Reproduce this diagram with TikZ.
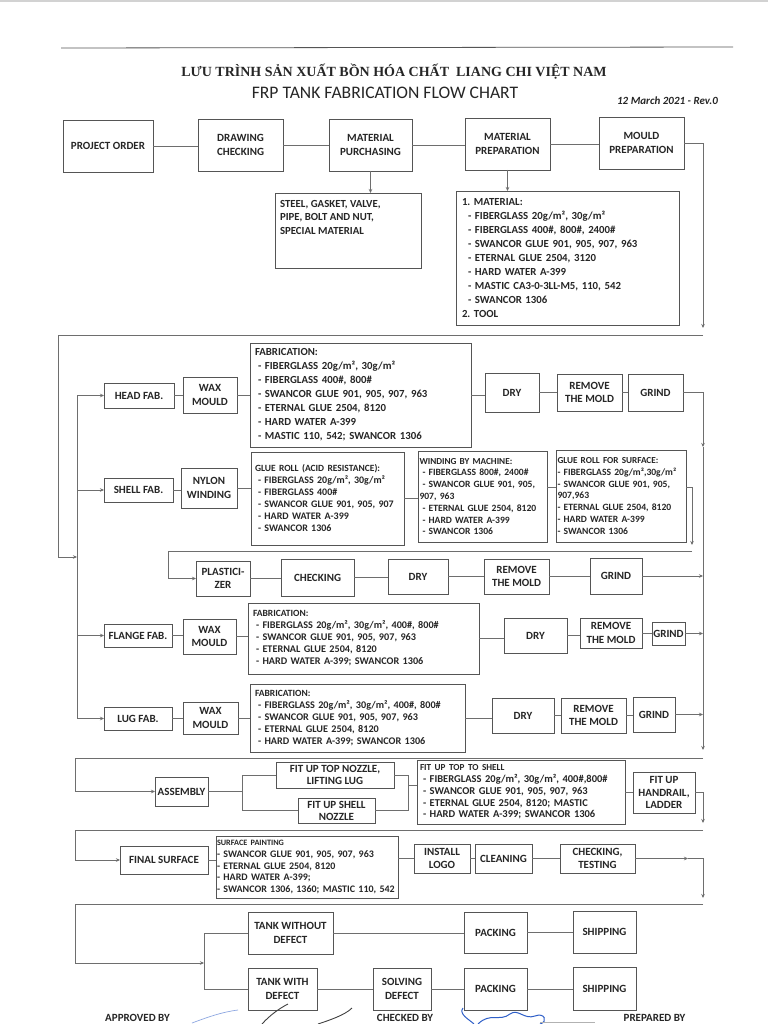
\documentclass[tikz,border=0pt]{standalone}
\usepackage{fontspec}
\setmainfont{Carlito}
\newfontfamily\titlefont{Liberation Serif}
\usetikzlibrary{arrows.meta}
\definecolor{ink}{HTML}{262626}
\definecolor{edgec}{HTML}{555555}
\definecolor{wirec}{HTML}{6E6E6E}
\definecolor{sigblue}{HTML}{2F5FC8}
\tikzset{
  box/.style={draw=edgec, line width=0.8pt, inner sep=0pt, outer sep=0pt, align=center, text=ink,
    font=\bfseries\fontsize{11}{13.3}\selectfont},
  lbox/.style={box, align=left, font=\bfseries\fontsize{10.2}{12}\selectfont},
  wire/.style={draw=wirec, line width=0.7pt},
  arr/.style={wire, -{Stealth[length=4pt,width=3.5pt]}},
  lbl/.style={text=ink, inner sep=0pt, font=\bfseries\fontsize{11}{13}\selectfont},
}
\newcommand\lnk[2]{\draw[wire] (#1.east) -- (#1.east -| #2.west);}
\newcommand\hdr{\fontsize{9.5}{12}\selectfont}
\newcommand\ind{\hspace*{3pt}}
\begin{document}
\begin{tikzpicture}[x=1pt,y=-1pt]
\useasboundingbox (0,0) rectangle (768,1024);
\fill[white] (0,0) rectangle (768,1024);
\draw[gray!35, line width=1.5pt] (0,1) -- (768,1);
\draw[edgec, line width=0.8pt] (61,48) -- (733,47);
% titles
\node[text=ink, inner sep=0pt, font=\titlefont\bfseries\fontsize{14}{16}\selectfont] (t1) at (394,72) {LƯU TRÌNH SẢN XUẤT BỒN HÓA CHẤT\ \ LIANG CHI VIỆT NAM};
\node[text=ink, inner sep=0pt, font=\fontsize{17.6}{19}\selectfont] (t2) at (385,93) {FRP TANK FABRICATION FLOW CHART};
\node[text=ink, inner sep=0pt, font=\bfseries\itshape\fontsize{11}{13}\selectfont] (date) at (667.5,101) {12 March 2021 - Rev.0};
% row 1
\node[box, minimum width=90pt, minimum height=52pt] (po) at (108,146) {PROJECT ORDER};
\node[box, minimum width=85pt, minimum height=52pt] (dc) at (240.5,145) {DRAWING\\CHECKING};
\node[box, minimum width=83pt, minimum height=52pt] (mp) at (370.5,145) {MATERIAL\\PURCHASING};
\node[box, minimum width=85pt, minimum height=52pt] (mprep) at (507.5,144) {MATERIAL\\PREPARATION};
\node[box, minimum width=85pt, minimum height=52pt] (mouldp) at (641.5,143) {MOULD\\PREPARATION};
\node[box, align=left, minimum width=146pt, minimum height=75pt, font=\bfseries\fontsize{10.8}{13.5}\selectfont] (steel) at (348,230.5)
  {\parbox[c][69pt][t]{136pt}{\vspace*{4pt}STEEL, GASKET, VALVE,\\PIPE, BOLT AND NUT,\\SPECIAL MATERIAL}};
\node[lbox, minimum width=223pt, minimum height=134pt, text width=211pt, font=\bfseries\fontsize{10.8}{13.9}\selectfont] (mat) at (567.5,258)
  {1.\ MATERIAL:\\
  \ind\ind - FIBERGLASS 20g/m², 30g/m²\\
  \ind\ind - FIBERGLASS 400\#, 800\#, 2400\#\\
  \ind\ind - SWANCOR GLUE 901, 905, 907, 963\\
  \ind\ind - ETERNAL GLUE 2504, 3120\\
  \ind\ind - HARD WATER A-399\\
  \ind\ind - MASTIC CA3-0-3LL-M5, 110, 542\\
  \ind\ind - SWANCOR 1306\\
  2.\ TOOL};
\lnk{po}{dc} \lnk{dc}{mp} \lnk{mp}{mprep} \lnk{mprep}{mouldp}
\draw[arr] (mp.south) -- (mp.south |- steel.north);
\draw[arr] (mprep.south) -- (mprep.south |- mat.north);
\coordinate (r1) at (703,328);
\draw[arr] (mouldp.east) -| (r1);
\coordinate (q1) at (703,335); \coordinate (q2) at (58,335);
\coordinate (q3) at (58,557); \coordinate (q4) at (77,557);
\draw[wire] (q1) -- (q2) -- (q3);
\draw[arr] (q3) -- (q4);
% head row
\node[box, minimum width=70pt, minimum height=25pt] (headfab) at (139,395.5) {HEAD FAB.};
\node[box, minimum width=54pt, minimum height=36pt] (waxh) at (210,395) {WAX\\MOULD};
\node[lbox, minimum width=221pt, minimum height=104pt, text width=211pt, font=\bfseries\fontsize{10.8}{14}\selectfont] (fabh) at (360.5,395)
  {FABRICATION:\\
  \ind - FIBERGLASS 20g/m², 30g/m²\\
  \ind - FIBERGLASS 400\#, 800\#\\
  \ind - SWANCOR GLUE 901, 905, 907, 963\\
  \ind - ETERNAL GLUE 2504, 8120\\
  \ind - HARD WATER A-399\\
  \ind - MASTIC 110, 542; SWANCOR 1306};
\node[box, minimum width=54pt, minimum height=39pt] (dryh) at (512,392.5) {DRY};
\node[box, minimum width=65pt, minimum height=37pt] (remh) at (589.5,392.5) {REMOVE\\THE MOLD};
\node[box, minimum width=55pt, minimum height=37pt] (grindh) at (655.5,392.5) {GRIND};
\lnk{headfab}{waxh} \lnk{waxh}{fabh} \lnk{fabh}{dryh} \lnk{dryh}{remh} \lnk{remh}{grindh}
% shell row
\node[box, minimum width=69pt, minimum height=24pt] (shellfab) at (138.5,490) {SHELL FAB.};
\node[box, minimum width=56pt, minimum height=40pt] (nylon) at (209,488) {NYLON\\WINDING};
\node[lbox, minimum width=153pt, minimum height=93pt, text width=145pt, font=\bfseries\fontsize{10}{12}\selectfont] (glueacid) at (327.5,498.5)
  {{\hdr GLUE ROLL (ACID RESISTANCE):}\\
  \ind - FIBERGLASS 20g/m², 30g/m²\\
  \ind - FIBERGLASS 400\#\\
  \ind - SWANCOR GLUE 901, 905, 907\\
  \ind - HARD WATER A-399\\
  \ind - SWANCOR 1306\\[6pt]};
\node[lbox, minimum width=129pt, minimum height=91pt, text width=126pt, font=\bfseries\fontsize{9.6}{11.8}\selectfont] (winding) at (482.5,496.5)
  {{\fontsize{9.2}{11.8}\selectfont WINDING BY MACHINE:}\\
  \ind - FIBERGLASS 800\#, 2400\#\\
  \ind - SWANCOR GLUE 901, 905,\\
  907, 963\\
  \ind - ETERNAL GLUE 2504, 8120\\
  \ind - HARD WATER A-399\\
  \ind - SWANCOR 1306};
\node[lbox, minimum width=130pt, minimum height=92pt, text width=127pt, font=\bfseries\fontsize{9.6}{11.8}\selectfont] (surf) at (621,496)
  {{\fontsize{9.2}{11.8}\selectfont GLUE ROLL FOR SURFACE:}\\
  - FIBERGLASS 20g/m²,30g/m²\\
  - SWANCOR GLUE 901, 905,\\
  907,963\\
  - ETERNAL GLUE 2504, 8120\\
  - HARD WATER A-399\\
  - SWANCOR 1306};
\lnk{shellfab}{nylon} \lnk{nylon}{glueacid} \lnk{glueacid}{winding}
\coordinate (w0) at (547,487);
\draw[wire] (w0) -- (w0 -| surf.west);
\coordinate (s0) at (686,487); \coordinate (s1) at (692,545);
\draw[arr] (s0) -| (s1);
% bus
\coordinate (b1) at (77,395.5); \coordinate (b2) at (77,718.5);
\draw[wire] (b1) -- (b2);
\draw[arr] (headfab.west -| b1) -- (headfab.west);
\draw[arr] (shellfab.west -| b1) -- (shellfab.west);
% right collector
\coordinate (r2) at (703,447); \coordinate (r3) at (703,750);
\draw[arr] (grindh.east) -| (r2);
\draw[arr] (r2) -- (r3);
% plasticizer row
\node[box, minimum width=54pt, minimum height=35pt] (plast) at (223,578.5) {PLASTICI-\\ZER};
\node[box, minimum width=73pt, minimum height=37pt] (check1) at (317.5,577.5) {CHECKING};
\node[box, minimum width=60pt, minimum height=35pt] (dry2) at (418,576.5) {DRY};
\node[box, minimum width=65pt, minimum height=35pt] (rem2) at (516.5,576.5) {REMOVE\\THE MOLD};
\node[box, minimum width=52pt, minimum height=36pt] (grind2) at (616,576) {GRIND};
\coordinate (p1) at (692,551); \coordinate (p2) at (168,551);
\draw[arr] (p1) -- (p2) |- (plast.west);
\lnk{plast}{check1} \lnk{check1}{dry2} \lnk{dry2}{rem2} \lnk{rem2}{grind2}
\draw[arr] (grind2.east) -- (grind2.east -| r3);
% flange row
\node[box, minimum width=68pt, minimum height=23pt] (flangefab) at (138,635.5) {FLANGE FAB.};
\node[box, minimum width=53pt, minimum height=35pt] (waxf) at (209.5,636.5) {WAX\\MOULD};
\node[lbox, minimum width=231pt, minimum height=71pt, text width=221pt] (fabf) at (363.5,638.5)
  {{\hdr FABRICATION:}\\
  \ind - FIBERGLASS 20g/m², 30g/m², 400\#, 800\#\\
  \ind - SWANCOR GLUE 901, 905, 907, 963\\
  \ind - ETERNAL GLUE 2504, 8120\\
  \ind - HARD WATER A-399; SWANCOR 1306};
\node[box, minimum width=63pt, minimum height=35pt] (dryf) at (535.5,635.5) {DRY};
\node[box, minimum width=62pt, minimum height=30pt] (remf) at (611,633) {REMOVE\\THE MOLD};
\node[box, minimum width=33pt, minimum height=23pt] (grindf) at (668.5,633.5) {GRIND};
\draw[arr] (flangefab.west -| b1) -- (flangefab.west);
\lnk{flangefab}{waxf} \lnk{waxf}{fabf} \lnk{fabf}{dryf} \lnk{dryf}{remf} \lnk{remf}{grindf}
\draw[arr] (grindf.east) -- (grindf.east -| r3);
% lug row
\node[box, minimum width=68pt, minimum height=23pt] (lugfab) at (138,718.5) {LUG FAB.};
\node[box, minimum width=55pt, minimum height=32pt] (waxl) at (210.5,718) {WAX\\MOULD};
\node[lbox, minimum width=215pt, minimum height=68pt, text width=205pt] (fabl) at (357.5,718)
  {{\hdr FABRICATION:}\\
  \ind - FIBERGLASS 20g/m², 30g/m², 400\#, 800\#\\
  \ind - SWANCOR GLUE 901, 905, 907, 963\\
  \ind - ETERNAL GLUE 2504, 8120\\
  \ind - HARD WATER A-399; SWANCOR 1306};
\node[box, minimum width=62pt, minimum height=35pt] (dryl) at (523,715.5) {DRY};
\node[box, minimum width=65pt, minimum height=35pt] (reml) at (593.5,715.5) {REMOVE\\THE MOLD};
\node[box, minimum width=42pt, minimum height=35pt] (grindl) at (654,714.5) {GRIND};
\draw[arr] (lugfab.west -| b1) -- (lugfab.west);
\lnk{lugfab}{waxl} \lnk{waxl}{fabl} \lnk{fabl}{dryl} \lnk{dryl}{reml} \lnk{reml}{grindl}
\draw[arr] (grindl.east) -- (grindl.east -| r3);
% assembly
\node[box, minimum width=53pt, minimum height=29pt] (assembly) at (181.5,791.5) {ASSEMBLY};
\node[box, minimum width=118pt, minimum height=26pt, font=\bfseries\fontsize{11}{12}\selectfont] (topnoz) at (335,775) {FIT UP TOP NOZZLE,\\LIFTING LUG};
\node[box, minimum width=77pt, minimum height=25pt, font=\bfseries\fontsize{11}{12}\selectfont] (shellnoz) at (336.5,810.5) {FIT UP SHELL\\NOZZLE};
\node[lbox, minimum width=208pt, minimum height=64pt, text width=202pt, font=\bfseries\fontsize{10.5}{11.8}\selectfont] (fitshell) at (521,792)
  {{\fontsize{9.2}{11.8}\selectfont FIT UP TOP TO SHELL}\\
  \ind - FIBERGLASS 20g/m², 30g/m², 400\#,800\#\\
  \ind - SWANCOR GLUE 901, 905, 907, 963\\
  \ind - ETERNAL GLUE 2504, 8120; MASTIC\\
  \ind - HARD WATER A-399; SWANCOR 1306};
\node[box, minimum width=62pt, minimum height=41pt, font=\bfseries\fontsize{11}{12.5}\selectfont] (handrail) at (664,792.5) {FIT UP\\HANDRAIL,\\LADDER};
\coordinate (a1) at (703,758); \coordinate (a2) at (75,758);
\draw[arr] (a1) -- (a2) |- (assembly.west);
\coordinate (j1) at (242,791.5); \coordinate (j3) at (242,810.5);
\draw[wire] (assembly.east) -- (j1);
\draw[wire] (topnoz.west) -| (j3) -- (shellnoz.west);
\coordinate (k1) at (408,775); \coordinate (k2) at (408,810.5); \coordinate (k3) at (408,785);
\draw[wire] (topnoz.east) -- (k1) -- (k2) -- (shellnoz.east);
\draw[wire] (k3) -- (k3 -| fitshell.west);
\draw[wire] (fitshell.east) -- (fitshell.east -| handrail.west);
\coordinate (h1) at (703,823);
\draw[arr] (handrail.east) -| (h1);
% final surface
\node[box, minimum width=88pt, minimum height=28pt] (finalsurf) at (164,860) {FINAL SURFACE};
\node[lbox, minimum width=182pt, minimum height=62pt, text width=180pt, font=\bfseries\fontsize{10}{11.6}\selectfont] (surfpaint) at (307,867)
  {{\fontsize{8.2}{11.6}\selectfont SURFACE PAINTING}\\
  - SWANCOR GLUE 901, 905, 907, 963\\
  - ETERNAL GLUE 2504, 8120\\
  - HARD WATER A-399;\\
  - SWANCOR 1306, 1360; MASTIC 110, 542};
\node[box, minimum width=56pt, minimum height=29pt] (install) at (442,858.5) {INSTALL\\LOGO};
\node[box, minimum width=57pt, minimum height=29pt] (cleaning) at (503.5,858.5) {CLEANING};
\node[box, minimum width=75pt, minimum height=29pt] (checktest) at (597.5,858.5) {CHECKING,\\TESTING};
\coordinate (f1) at (703,830); \coordinate (f2) at (75,830);
\draw[arr] (f1) -- (f2) |- (finalsurf.west);
\draw[wire] (finalsurf.east) -- (finalsurf.east -| surfpaint.west);
\draw[wire] (surfpaint.east |- install.west) -- (install.west);
\lnk{install}{cleaning} \lnk{cleaning}{checktest}
\coordinate (c1) at (688,858.5); \coordinate (c2) at (703,898);
\draw[arr] (checktest.east) -- (c1);
\draw[arr] (c1) -| (c2);
% final rows
\node[box, minimum width=85pt, minimum height=42pt] (tankwo) at (290.5,933) {TANK WITHOUT\\DEFECT};
\node[box, minimum width=63pt, minimum height=41pt] (pack1) at (495.5,932.5) {PACKING};
\node[box, minimum width=63pt, minimum height=42pt] (ship1) at (604.5,932) {SHIPPING};
\node[box, minimum width=69pt, minimum height=42pt] (tankw) at (282.5,989) {TANK WITH\\DEFECT};
\node[box, minimum width=58pt, minimum height=42pt] (solving) at (402,989) {SOLVING\\DEFECT};
\node[box, minimum width=63pt, minimum height=42pt] (pack2) at (495.5,989) {PACKING};
\node[box, minimum width=63pt, minimum height=43pt] (ship2) at (604.5,988.5) {SHIPPING};
\coordinate (d1) at (703,904); \coordinate (d2) at (75,904);
\coordinate (d3) at (75,963); \coordinate (d4) at (204,963);
\draw[wire] (d1) -- (d2) -- (d3);
\draw[arr] (d3) -- (d4);
\coordinate (e2) at (204,989);
\draw[wire] (tankwo.west) -| (e2) -- (tankw.west);
\lnk{tankwo}{pack1} \lnk{pack1}{ship1}
\lnk{tankw}{solving} \lnk{solving}{pack2} \lnk{pack2}{ship2}
% signatures
\node[lbl] (appr) at (137.5,1018) {APPROVED BY};
\node[lbl] (chk) at (405,1018) {CHECKED BY};
\node[lbl] (prep) at (654.5,1018) {PREPARED BY};
\draw[sigblue!55, line width=0.7pt] (192,1023) .. controls (208,1017) and (222,1012) .. (238,1010);
\draw[black!75, line width=0.9pt] (262,1024) .. controls (270,1015) and (280,1008) .. (288,1004);
\draw[black!75, line width=0.9pt] (318,1024) .. controls (330,1020) and (345,1015) .. (352,1008);
\draw[sigblue, line width=1pt] (463,1008) .. controls (458,1014) and (470,1020) .. (474,1024);
\draw[sigblue, line width=1pt] (478,1024) .. controls (490,1012) and (500,1022) .. (510,1014) .. controls (518,1008) and (524,1020) .. (535,1016) .. controls (545,1012) and (548,1022) .. (540,1024);
\draw[gray!60, line width=0.6pt] (540,1022) -- (595,1022);
\end{tikzpicture}
\end{document}
